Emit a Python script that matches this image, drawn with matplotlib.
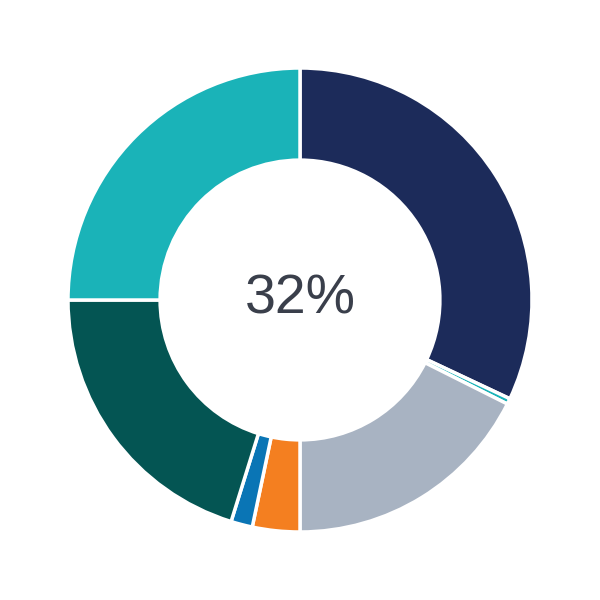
import matplotlib
matplotlib.use("Agg")
import matplotlib.pyplot as plt

# доли сегментов по часовой стрелке от верха
labels = ['A', 'B', 'C', 'D', 'E', 'F', 'G']
values = [32.0, 0.4, 17.6, 3.3, 1.5, 20.2, 25.0]
colors = ['#1c2b5a', '#1ab3b8', '#a8b3c2', '#f47f20', '#0a75b5', '#045553', '#1ab3b8']
center_text = '32%'

fig = plt.figure(figsize=(6, 6), dpi=100)
ax = fig.add_axes([0, 0, 1, 1])
ax.pie(values, colors=colors, startangle=90, counterclock=False,
       radius=1.0,
       wedgeprops=dict(width=0.397, edgecolor='white', linewidth=2.5))
ax.text(0, 0, center_text, ha='center', va='center', fontsize=40,
        color='#3a3f4b', family=['Liberation Sans', 'DejaVu Sans'])
lim = 300 / 232
ax.set_xlim(-lim, lim)
ax.set_ylim(-lim, lim)
ax.set_aspect('equal')
ax.axis('off')
fig.savefig('out.png', dpi=100, facecolor='white')
